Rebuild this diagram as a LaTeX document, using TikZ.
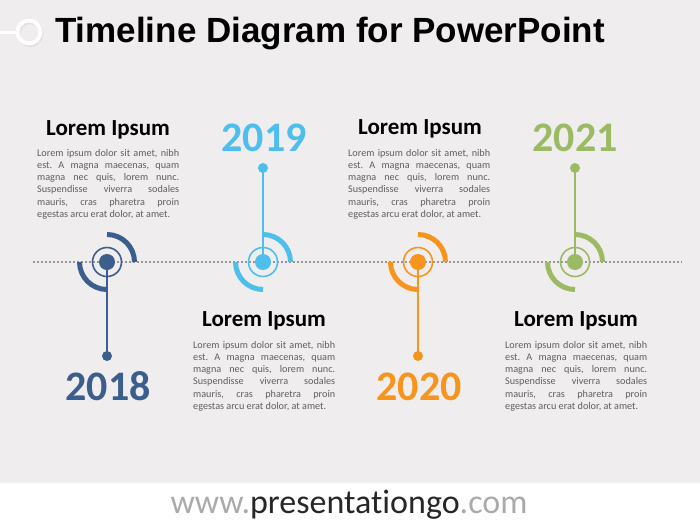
\documentclass[tikz,border=0pt]{standalone}
\usepackage{fontspec}
\setmainfont{Carlito}[RawFeature={-liga}]
\newfontfamily\titlefont{Liberation Sans}
\definecolor{bgc}{RGB}{239,237,238}
\definecolor{cA}{RGB}{59,94,140}
\definecolor{cB}{RGB}{78,190,236}
\definecolor{cC}{RGB}{247,148,30}
\definecolor{cD}{RGB}{156,186,100}
\definecolor{bodygrey}{RGB}{95,95,95}
\definecolor{urlgrey}{RGB}{170,170,170}
\definecolor{urldark}{RGB}{38,38,38}
\definecolor{dotgrey}{RGB}{150,150,150}
\frenchspacing
\newcommand\loremtext{\parbox[t]{142pt}{\frenchspacing\fontsize{10.2}{12.3}\selectfont
\makebox[142pt][s]{Lorem ipsum dolor sit amet, nibh}\\
\makebox[142pt][s]{est. A magna maecenas, quam}\\
\makebox[142pt][s]{magna nec quis, lorem nunc.}\\
\makebox[142pt][s]{Suspendisse viverra sodales}\\
\makebox[142pt][s]{mauris, cras pharetra proin}\\
egestas arcu erat dolor, at amet.}}
\begin{document}
\begin{tikzpicture}[x=1pt,y=-1pt,
  dotnode/.style={circle, fill=#1, inner sep=0pt, minimum size=16pt},
  ringnode/.style={circle, draw=#1, line width=1.6pt, inner sep=0pt, minimum size=29pt},
  enddot/.style={circle, fill=#1, inner sep=0pt, minimum size=10pt},
  arcline/.style={draw=#1, line width=5pt},
  stem/.style={draw=#1, line width=2pt},
  year/.style={anchor=base, text=#1, font=\bfseries\fontsize{42}{42}\selectfont, inner sep=0pt},
  head/.style={anchor=base, text=black, font=\bfseries\fontsize{23}{24}\selectfont, inner sep=0pt},
  body/.style={anchor=base west, text=bodygrey, inner sep=0pt}
]
\useasboundingbox (0,0) rectangle (700,525);
\fill[bgc] (0,0) rectangle (700,483);
\fill[white] (0,483) rectangle (700,525);

% top-left ring
\coordinate (lstart) at (0,32);
\draw[black!12, line width=4pt] (30,33.5) circle[radius=11.5];
\node[circle, draw=white, line width=4pt, inner sep=0pt, minimum size=23pt] (tring) at (29,32) {};
\draw[white, line width=3pt] (lstart) -- (tring.west);

% title
\node[anchor=base west, inner sep=0pt, font=\titlefont\bfseries\fontsize{35}{38}\selectfont] (title) at (55,42) {Timeline Diagram for PowerPoint};

% timeline
\coordinate (tl1) at (33,262);
\coordinate (tl2) at (682,262);
\draw[dotgrey, line width=1.8pt, dash pattern=on 1.8pt off 2.2pt] (tl1) -- (tl2);

% markers
\foreach \n/\x/\c/\ey in {m1/107/cA/356, m2/263/cB/168, m3/418/cC/356, m4/575/cD/168}{
  \draw[arcline=\c] (\x,262) ++(27.5,0) arc[start angle=0, end angle=-90, radius=27.5];
  \draw[arcline=\c] (\x,262) ++(-27.5,0) arc[start angle=180, end angle=90, radius=27.5];
  \node[ringnode=\c] (\n-ring) at (\x,262) {};
  \node[enddot=\c] (\n-end) at (\x,\ey) {};
  \draw[stem=\c] (\n-ring.center) -- (\n-end.center);
  \node[dotnode=\c] (\n-dot) at (\x,262) {};
}

% years
\node[year=cA] (y1) at (108,400) {2018};
\node[year=cB] (y2) at (264,151) {2019};
\node[year=cC] (y3) at (419,400) {2020};
\node[year=cD] (y4) at (575,151) {2021};

% headings
\node[head] (h1) at (108,135) {Lorem Ipsum};
\node[head] (h2) at (264,326) {Lorem Ipsum};
\node[head] (h3) at (420,134) {Lorem Ipsum};
\node[head] (h4) at (576,326) {Lorem Ipsum};

% body texts
\node[body] (b1) at (37,156) {\loremtext};
\node[body] (b2) at (193,348) {\loremtext};
\node[body] (b3) at (348,156) {\loremtext};
\node[body] (b4) at (505,348) {\loremtext};

% footer
\node[anchor=base, inner sep=0pt, font=\fontsize{34}{34}\selectfont] (url) at (349,513)
  {\textcolor{urlgrey}{www.}\textcolor{urldark}{presentationgo}\textcolor{urlgrey}{.com}};
\end{tikzpicture}
\end{document}
